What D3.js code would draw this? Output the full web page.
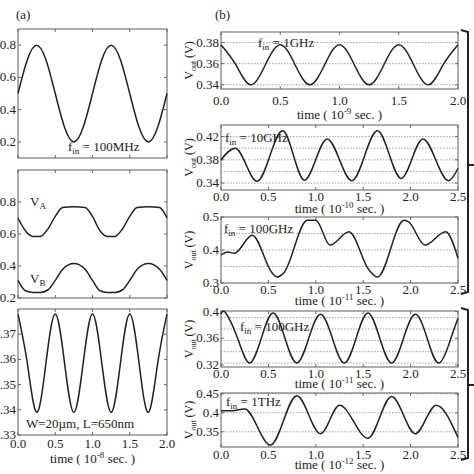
<!DOCTYPE html>
<html><head><meta charset="utf-8">
<script src="https://cdn.jsdelivr.net/npm/d3@7"></script>
<style>body{margin:0;background:#fff}text{font-family:"Liberation Serif",serif;fill:#222}</style>
</head><body>
<script>
// ---- data ----
var a1T = [0,0.125,0.25,0.375,0.5,0.625,0.75,0.875,1,1.125,1.25,1.375,1.5,1.625,1.75,1.875,2];
var a1V = [0.5,0.71,0.8,0.71,0.5,0.29,0.2,0.29,0.5,0.71,0.8,0.71,0.5,0.29,0.2,0.29,0.5];
var vaT = [0,0.1,0.2,0.3,0.4,0.5,0.6,0.75,0.9,1.0,1.1,1.2,1.3,1.4,1.5,1.6,1.75,1.9,2.0];
var vaV = [0.70,0.62,0.585,0.585,0.63,0.71,0.765,0.77,0.765,0.71,0.62,0.585,0.585,0.63,0.71,0.765,0.77,0.765,0.70];
var vbT = [0,0.1,0.2,0.3,0.4,0.5,0.6,0.75,0.9,1.0,1.1,1.2,1.3,1.4,1.5,1.6,1.75,1.9,2.0];
var vbV = [0.31,0.245,0.235,0.235,0.25,0.31,0.38,0.415,0.38,0.31,0.245,0.235,0.235,0.25,0.31,0.38,0.415,0.38,0.31];
var a3T = [0,0.125,0.25,0.375,0.5,0.625,0.75,0.875,1,1.125,1.25,1.375,1.5,1.625,1.75,1.875,2];
var a3V = [0.378,0.3585,0.339,0.3585,0.378,0.3585,0.339,0.3585,0.378,0.3585,0.339,0.3585,0.378,0.3585,0.339,0.3585,0.378];

var b1T = [0,0.125,0.25,0.375,0.5,0.625,0.75,0.875,1,1.125,1.25,1.375,1.5,1.625,1.75,1.875,2];
var b1V = [0.378,0.359,0.34,0.359,0.378,0.359,0.34,0.359,0.378,0.359,0.34,0.359,0.378,0.359,0.34,0.359,0.378];
var b2T = [0,0.15,0.38,0.65,0.88,1.12,1.38,1.65,1.9,2.13,2.4,2.5];
var b2V = [0.38,0.40,0.343,0.43,0.345,0.416,0.344,0.43,0.348,0.416,0.344,0.365];
var b3T = [0,0.07,0.14,0.33,0.54,0.59,0.66,0.91,1.0,1.15,1.35,1.56,1.65,1.93,1.98,2.15,2.37,2.5];
var b3V = [0.385,0.394,0.39,0.445,0.33,0.318,0.33,0.49,0.49,0.415,0.455,0.34,0.318,0.49,0.485,0.415,0.455,0.375];
var b4T = [0,0.05,0.175,0.3,0.425,0.55,0.675,0.8,0.925,1.05,1.175,1.3,1.425,1.55,1.675,1.8,1.925,2.05,2.175,2.3,2.425,2.5];
var b4V = [0.396,0.398,0.36,0.323,0.36,0.398,0.36,0.323,0.36,0.396,0.36,0.323,0.36,0.398,0.36,0.323,0.36,0.396,0.36,0.323,0.36,0.39];
var b5T = [0,0.1,0.25,0.52,0.8,1.05,1.25,1.55,1.8,2.05,2.27,2.5];
var b5V = [0.405,0.405,0.41,0.315,0.445,0.345,0.42,0.333,0.443,0.345,0.42,0.335];

var leftTicksX = [0,0.5,1.0,1.5,2.0];
var rightTicksX25 = [0,0.5,1.0,1.5,2.0,2.5];

var svg = d3.select("body").append("svg").attr("width",474).attr("height",474);
var smooth = d3.curveNatural, bumpy = d3.curveMonotoneX;

function panel(o){
  var x = d3.scaleLinear().domain(o.xd).range([o.x0,o.x1]);
  var y = d3.scaleLinear().domain(o.yd).range([o.y1,o.y0]);
  var g = svg.append("g");
  (o.grid||[]).forEach(function(v){
    g.append("line").attr("x1",o.x0).attr("x2",o.x1).attr("y1",y(v)).attr("y2",y(v))
      .attr("stroke","#888").attr("stroke-width",0.8).attr("stroke-dasharray","1.5,1.5");
  });
  g.append("rect").attr("x",o.x0).attr("y",o.y0).attr("width",o.x1-o.x0).attr("height",o.y1-o.y0)
    .attr("fill","none").attr("stroke","#777").attr("stroke-width",1.2);
  o.xt.forEach(function(v){
    g.append("line").attr("x1",x(v)).attr("x2",x(v)).attr("y1",o.y0).attr("y2",o.y0+3).attr("stroke","#666");
    g.append("line").attr("x1",x(v)).attr("x2",x(v)).attr("y1",o.y1).attr("y2",o.y1-3).attr("stroke","#666");
    if(o.xlab) g.append("text").attr("x",x(v)).attr("y",o.y1+(o.xoff||12)).attr("text-anchor","middle")
      .attr("font-size",13).text(v.toFixed(1));
  });
  o.yt.forEach(function(v){
    g.append("line").attr("y1",y(v)).attr("y2",y(v)).attr("x1",o.x0).attr("x2",o.x0+3).attr("stroke","#666");
    g.append("line").attr("y1",y(v)).attr("y2",y(v)).attr("x1",o.x1).attr("x2",o.x1-3).attr("stroke","#666");
    g.append("text").attr("x",o.x0-2).attr("y",y(v)+4).attr("text-anchor","end")
      .attr("font-size",13).text(o.yf?o.yf(v):String(v));
  });
  o.series.forEach(function(s){
    var pts = s[0].map(function(t,i){return [t,s[1][i]];});
    g.append("path").datum(pts).attr("fill","none").attr("stroke","#222").attr("stroke-width",1.5)
      .attr("d",d3.line().x(function(d){return x(d[0]);}).y(function(d){return y(d[1]);}).curve(s[2]||smooth));
  });
  if(o.tlab){
    var t = g.append("text").attr("x",(o.x0+o.x1)/2).attr("y",o.tly).attr("text-anchor","middle").attr("font-size",13);
    t.append("tspan").text("time ( 10");
    t.append("tspan").attr("font-size",9).attr("dy",-5).text(o.tlab);
    t.append("tspan").attr("dy",5).text(" sec. )");
  }
  if(o.vout){
    var v = g.append("text").attr("transform","translate(193,"+((o.y0+o.y1)/2)+") rotate(-90)")
      .attr("text-anchor","middle").attr("font-size",12);
    v.append("tspan").text("V");
    v.append("tspan").attr("font-size",8).attr("dy",3).text("out");
    v.append("tspan").attr("dy",-3).text(" (V)");
  }
  return g;
}
function fin(x,y,txt){
  var t = svg.append("text").attr("x",x).attr("y",y).attr("font-size",13);
  t.append("tspan").text("f");
  t.append("tspan").attr("font-size",9).attr("dy",3).text("in");
  t.append("tspan").attr("dy",-3).text(" = "+txt);
}
function vsub(x,y,s){
  var t = svg.append("text").attr("x",x).attr("y",y).attr("font-size",13);
  t.append("tspan").text("V");
  t.append("tspan").attr("font-size",9).attr("dy",3).text(s);
}

var f1 = function(v){return v.toFixed(1);}, f2 = function(v){return v.toFixed(2);};
// left column (a)
panel({x0:18,x1:167,y0:29,y1:158,xd:[0,2],yd:[0.1,0.9],xt:leftTicksX,yt:[0.2,0.4,0.6,0.8],yf:f1,series:[[a1T,a1V]]});
panel({x0:18,x1:167,y0:170,y1:298,xd:[0,2],yd:[0.2,1.0],xt:leftTicksX,yt:[0.2,0.4,0.6,0.8],yf:f1,series:[[vaT,vaV,bumpy],[vbT,vbV,bumpy]]});
panel({x0:18,x1:167,y0:309,y1:435,xd:[0,2],yd:[0.33,0.38],xt:leftTicksX,yt:[0.33,0.34,0.35,0.36,0.37],yf:f2,
  series:[[a3T,a3V]],xlab:true,xoff:13,tlab:"-8",tly:463});
fin(68,151,"100MHz");
vsub(30,206,"A"); vsub(30,283,"B");
svg.append("text").attr("x",26).attr("y",428).attr("font-size",13).text("W=20µm, L=650nm");
svg.append("text").attr("x",16).attr("y",19).attr("font-size",13).text("(a)");
svg.append("text").attr("x",215).attr("y",19).attr("font-size",13).text("(b)");

// right column (b)
panel({x0:221,x1:458,y0:32,y1:89,xd:[0,2],yd:[0.336,0.39],xt:leftTicksX,yt:[0.34,0.36,0.38],yf:f2,grid:[0.34,0.36,0.38],
  series:[[b1T,b1V]],xlab:true,xoff:16,tlab:"-9",tly:119,vout:true});
panel({x0:221,x1:458,y0:125,y1:190,xd:[0,2.5],yd:[0.328,0.44],xt:rightTicksX25,yt:[0.34,0.38,0.42],yf:f2,grid:[0.34,0.36,0.38,0.40,0.42],
  series:[[b2T,b2V,bumpy]],xlab:true,xoff:11,tlab:"-10",tly:213,vout:true});
panel({x0:221,x1:458,y0:217,y1:283,xd:[0,2.5],yd:[0.3,0.5],xt:rightTicksX25,yt:[0.3,0.4,0.5],yf:f1,grid:[0.35,0.40,0.45],
  series:[[b3T,b3V,bumpy]],xlab:true,xoff:11,tlab:"-11",tly:305,vout:true});
panel({x0:221,x1:458,y0:311,y1:367,xd:[0,2.5],yd:[0.317,0.401],xt:rightTicksX25,yt:[0.32,0.36,0.4],yf:function(v){return v==0.4?"0.4":v.toFixed(2);},
  grid:[0.323,0.34,0.357,0.374,0.391],series:[[b4T,b4V]],xlab:true,xoff:11,tlab:"-11",tly:388,vout:true});
panel({x0:221,x1:458,y0:393,y1:447,xd:[0,2.5],yd:[0.31,0.452],xt:rightTicksX25,yt:[0.35,0.4,0.45],yf:function(v){return v==0.4?"0.4":v.toFixed(2);},
  grid:[0.35,0.40,0.45],series:[[b5T,b5V,bumpy]],xlab:true,xoff:12,tlab:"-12",tly:469,vout:true});
fin(258,47,"1GHz"); fin(225,142,"10GHz"); fin(224,233,"100GHz"); fin(240,331,"100GHz"); fin(226,406,"1THz");

// braces
function brace(y0,y1,ym){
  svg.append("path").attr("fill","none").attr("stroke","#222").attr("stroke-width",2)
    .attr("d","M461,"+y0+" L468,"+(y0+2)+" L468,"+y1+" L461,"+(y1+2)+" M468,"+ym+" L474,"+ym);
}
brace(30,292,165); brace(308,458,385);
</script>
</body></html>
